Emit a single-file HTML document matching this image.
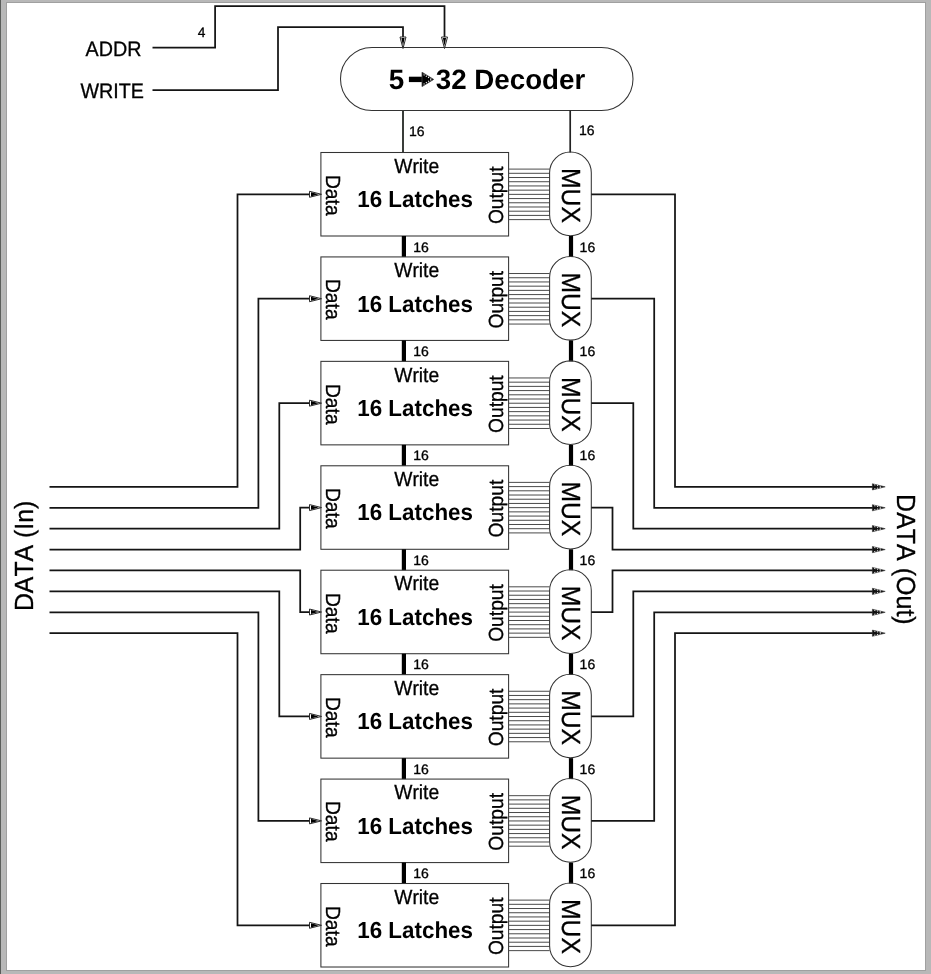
<!DOCTYPE html>
<html><head><meta charset="utf-8"><title>Register file</title>
<style>html,body{margin:0;padding:0;background:#b8b8b8;overflow:hidden}svg{display:block;will-change:transform}text{font-family:"Liberation Sans",sans-serif;fill:#000;text-rendering:geometricPrecision;font-kerning:none;stroke:#000;stroke-width:0.3px;paint-order:stroke}.b{font-weight:bold;stroke-width:0}.w{stroke:#141414;stroke-width:1.75;fill:none;stroke-linejoin:miter}.t{stroke:#333;stroke-width:1.05;fill:none}.bus{stroke:#000;stroke-width:4.2;fill:none}.ah{stroke:#2c2c2c;stroke-width:1;fill:#fff}</style></head><body>
<svg width="931" height="974" viewBox="0 0 931 974">
<rect x="0" y="0" width="931" height="974" fill="#b8b8b8"/>
<rect x="0" y="0" width="1" height="974" fill="#5a5d5a"/>
<rect x="6.5" y="2.5" width="919" height="968" fill="#fff" stroke="#a0a0a0" stroke-width="1"/>
<text transform="translate(85.60 55.80) scale(0.985 1.05)" font-size="20">ADDR</text>
<text transform="translate(80.40 97.80) scale(0.985 1.05)" font-size="20">WRITE</text>
<text transform="translate(197.80 36.80) scale(1.06 1.05)" font-size="13">4</text>
<path class="w" d="M152.5 47.7H215.1V6.2H444.5V38"/>
<path class="w" d="M152.5 90H278V27.1H403V38"/>
<path class="ah" d="M400 37H406L403 48.5Z"/>
<path d="M401.4 38h3.2l-1.6 8z" fill="#000"/>
<path class="ah" d="M441.5 37H447.5L444.5 48.5Z"/>
<path d="M442.9 38h3.2l-1.6 8z" fill="#000"/>
<rect class="t" x="340.5" y="47.5" width="292.5" height="63" rx="31.5" ry="31.5" fill="#fff"/>
<text class="b" transform="translate(388.70 88.90) scale(1.05 1.055)" font-size="26.5">5</text>
<text class="b" transform="translate(435.80 88.90) scale(1.046 1.055)" font-size="26.5">32 Decoder</text>
<path d="M408.9 79.4H424" stroke="#000" stroke-width="5.4" fill="none"/>
<path d="M422 72.2L433.7 79.4L422 86.6Z" fill="#000" stroke="#444" stroke-width="0.8"/>
<path d="M423.6 74.6L431.6 79.4M423.6 84.2L431.6 79.4" stroke="#fff" stroke-width="1.1" stroke-dasharray="1.1 1.5" fill="none"/>
<path d="M403 110.5V152.5" stroke="#3a3d3a" stroke-width="2" fill="none"/>
<path d="M570.2 110.5V152.5" stroke="#222" stroke-width="1.7" fill="none"/>
<text transform="translate(409.00 135.50) scale(1.08 1.05)" font-size="13">16</text>
<text transform="translate(579.00 135.00) scale(1.08 1.05)" font-size="13">16</text>
<rect class="t" x="320.9" y="152.50" width="187.70" height="83.5" fill="#fff"/>
<text transform="translate(394.30 172.90) scale(0.985 1.05)" font-size="19.5">Write</text>
<text class="b" transform="translate(357.20 206.70) scale(1.018 1.055)" font-size="22">16 Latches</text>
<text transform="translate(326.00 175.00) rotate(90) scale(0.985 1.05)" font-size="19.5">Data</text>
<text transform="translate(503.30 224.10) rotate(-90) scale(0.985 1.05)" font-size="19.5">Output</text>
<path d="M508.6 169.10H549.6M508.6 173.31H549.6M508.6 177.52H549.6M508.6 181.73H549.6M508.6 185.94H549.6M508.6 190.15H549.6M508.6 194.36H549.6M508.6 198.57H549.6M508.6 202.78H549.6M508.6 206.99H549.6M508.6 211.20H549.6M508.6 215.41H549.6M508.6 219.62H549.6" stroke="#4a4a4a" stroke-width="1" fill="none"/>
<rect class="t" x="549.6" y="152.00" width="41.70" height="83.7" rx="20.85" ry="20.85" fill="#fff"/>
<text transform="translate(562.00 168.10) rotate(90) scale(0.985 1.05)" font-size="25">MUX</text>
<path class="bus" d="M403.9 236.00V256.93"/>
<path class="bus" d="M571.0 236.00V256.93"/>
<text transform="translate(413.20 252.00) scale(1.08 1.05)" font-size="13">16</text>
<text transform="translate(579.60 252.00) scale(1.08 1.05)" font-size="13">16</text>
<path class="w" d="M49.5 486.85H237.5V194.30H311"/>
<path class="ah" d="M309.5 191.30V197.30L321.5 194.30Z"/>
<path d="M311 192.20v4.2l7.5-2.1z" fill="#000"/>
<path class="w" d="M591.3 194.30H675V486.85H874"/>
<path d="M872.4 483.75V489.95L885.2 486.85Z" fill="#111" stroke="#333" stroke-width="0.6"/>
<path d="M874.2 484.85L881.5 486.45M874.2 488.85L881.5 487.25" stroke="#fff" stroke-width="0.9" stroke-dasharray="1.2 1.6" fill="none"/>
<rect class="t" x="320.9" y="256.93" width="187.70" height="83.5" fill="#fff"/>
<text transform="translate(394.30 276.90) scale(0.985 1.05)" font-size="19.5">Write</text>
<text class="b" transform="translate(357.20 311.70) scale(1.018 1.055)" font-size="22">16 Latches</text>
<text transform="translate(326.00 279.00) rotate(90) scale(0.985 1.05)" font-size="19.5">Data</text>
<text transform="translate(503.30 328.53) rotate(-90) scale(0.985 1.05)" font-size="19.5">Output</text>
<path d="M508.6 273.53H549.6M508.6 277.74H549.6M508.6 281.95H549.6M508.6 286.16H549.6M508.6 290.37H549.6M508.6 294.58H549.6M508.6 298.79H549.6M508.6 303.00H549.6M508.6 307.21H549.6M508.6 311.42H549.6M508.6 315.63H549.6M508.6 319.84H549.6M508.6 324.05H549.6" stroke="#4a4a4a" stroke-width="1" fill="none"/>
<rect class="t" x="549.6" y="256.43" width="41.70" height="83.7" rx="20.85" ry="20.85" fill="#fff"/>
<text transform="translate(562.00 272.53) rotate(90) scale(0.985 1.05)" font-size="25">MUX</text>
<path class="bus" d="M403.9 340.43V361.36"/>
<path class="bus" d="M571.0 340.43V361.36"/>
<text transform="translate(413.20 356.00) scale(1.08 1.05)" font-size="13">16</text>
<text transform="translate(579.60 356.00) scale(1.08 1.05)" font-size="13">16</text>
<path class="w" d="M49.5 507.76H258.4V298.73H311"/>
<path class="ah" d="M309.5 295.73V301.73L321.5 298.73Z"/>
<path d="M311 296.63v4.2l7.5-2.1z" fill="#000"/>
<path class="w" d="M591.3 298.73H654.2V507.76H874"/>
<path d="M872.4 504.66V510.86L885.2 507.76Z" fill="#111" stroke="#333" stroke-width="0.6"/>
<path d="M874.2 505.76L881.5 507.36M874.2 509.76L881.5 508.16" stroke="#fff" stroke-width="0.9" stroke-dasharray="1.2 1.6" fill="none"/>
<rect class="t" x="320.9" y="361.36" width="187.70" height="83.5" fill="#fff"/>
<text transform="translate(394.30 381.90) scale(0.985 1.05)" font-size="19.5">Write</text>
<text class="b" transform="translate(357.20 415.70) scale(1.018 1.055)" font-size="22">16 Latches</text>
<text transform="translate(326.00 384.00) rotate(90) scale(0.985 1.05)" font-size="19.5">Data</text>
<text transform="translate(503.30 432.96) rotate(-90) scale(0.985 1.05)" font-size="19.5">Output</text>
<path d="M508.6 377.96H549.6M508.6 382.17H549.6M508.6 386.38H549.6M508.6 390.59H549.6M508.6 394.80H549.6M508.6 399.01H549.6M508.6 403.22H549.6M508.6 407.43H549.6M508.6 411.64H549.6M508.6 415.85H549.6M508.6 420.06H549.6M508.6 424.27H549.6M508.6 428.48H549.6" stroke="#4a4a4a" stroke-width="1" fill="none"/>
<rect class="t" x="549.6" y="360.86" width="41.70" height="83.7" rx="20.85" ry="20.85" fill="#fff"/>
<text transform="translate(562.00 376.96) rotate(90) scale(0.985 1.05)" font-size="25">MUX</text>
<path class="bus" d="M403.9 444.86V465.79"/>
<path class="bus" d="M571.0 444.86V465.79"/>
<text transform="translate(413.20 460.00) scale(1.08 1.05)" font-size="13">16</text>
<text transform="translate(579.60 460.00) scale(1.08 1.05)" font-size="13">16</text>
<path class="w" d="M49.5 528.66H279.3V403.16H311"/>
<path class="ah" d="M309.5 400.16V406.16L321.5 403.16Z"/>
<path d="M311 401.06v4.2l7.5-2.1z" fill="#000"/>
<path class="w" d="M591.3 403.16H633.3V528.66H874"/>
<path d="M872.4 525.56V531.76L885.2 528.66Z" fill="#111" stroke="#333" stroke-width="0.6"/>
<path d="M874.2 526.66L881.5 528.26M874.2 530.66L881.5 529.06" stroke="#fff" stroke-width="0.9" stroke-dasharray="1.2 1.6" fill="none"/>
<rect class="t" x="320.9" y="465.79" width="187.70" height="83.5" fill="#fff"/>
<text transform="translate(394.30 485.90) scale(0.985 1.05)" font-size="19.5">Write</text>
<text class="b" transform="translate(357.20 519.70) scale(1.018 1.055)" font-size="22">16 Latches</text>
<text transform="translate(326.00 488.00) rotate(90) scale(0.985 1.05)" font-size="19.5">Data</text>
<text transform="translate(503.30 537.39) rotate(-90) scale(0.985 1.05)" font-size="19.5">Output</text>
<path d="M508.6 482.39H549.6M508.6 486.60H549.6M508.6 490.81H549.6M508.6 495.02H549.6M508.6 499.23H549.6M508.6 503.44H549.6M508.6 507.65H549.6M508.6 511.86H549.6M508.6 516.07H549.6M508.6 520.28H549.6M508.6 524.49H549.6M508.6 528.70H549.6M508.6 532.91H549.6" stroke="#4a4a4a" stroke-width="1" fill="none"/>
<rect class="t" x="549.6" y="465.29" width="41.70" height="83.7" rx="20.85" ry="20.85" fill="#fff"/>
<text transform="translate(562.00 481.39) rotate(90) scale(0.985 1.05)" font-size="25">MUX</text>
<path class="bus" d="M403.9 549.29V570.22"/>
<path class="bus" d="M571.0 549.29V570.22"/>
<text transform="translate(413.20 565.00) scale(1.08 1.05)" font-size="13">16</text>
<text transform="translate(579.60 565.00) scale(1.08 1.05)" font-size="13">16</text>
<path class="w" d="M49.5 549.57H300.2V507.59H311"/>
<path class="ah" d="M309.5 504.59V510.59L321.5 507.59Z"/>
<path d="M311 505.49v4.2l7.5-2.1z" fill="#000"/>
<path class="w" d="M591.3 507.59H612.5V549.57H874"/>
<path d="M872.4 546.47V552.67L885.2 549.57Z" fill="#111" stroke="#333" stroke-width="0.6"/>
<path d="M874.2 547.57L881.5 549.17M874.2 551.57L881.5 549.97" stroke="#fff" stroke-width="0.9" stroke-dasharray="1.2 1.6" fill="none"/>
<rect class="t" x="320.9" y="570.22" width="187.70" height="83.5" fill="#fff"/>
<text transform="translate(394.30 589.90) scale(0.985 1.05)" font-size="19.5">Write</text>
<text class="b" transform="translate(357.20 624.70) scale(1.018 1.055)" font-size="22">16 Latches</text>
<text transform="translate(326.00 593.00) rotate(90) scale(0.985 1.05)" font-size="19.5">Data</text>
<text transform="translate(503.30 641.82) rotate(-90) scale(0.985 1.05)" font-size="19.5">Output</text>
<path d="M508.6 586.82H549.6M508.6 591.03H549.6M508.6 595.24H549.6M508.6 599.45H549.6M508.6 603.66H549.6M508.6 607.87H549.6M508.6 612.08H549.6M508.6 616.29H549.6M508.6 620.50H549.6M508.6 624.71H549.6M508.6 628.92H549.6M508.6 633.13H549.6M508.6 637.34H549.6" stroke="#4a4a4a" stroke-width="1" fill="none"/>
<rect class="t" x="549.6" y="569.72" width="41.70" height="83.7" rx="20.85" ry="20.85" fill="#fff"/>
<text transform="translate(562.00 585.82) rotate(90) scale(0.985 1.05)" font-size="25">MUX</text>
<path class="bus" d="M403.9 653.72V674.65"/>
<path class="bus" d="M571.0 653.72V674.65"/>
<text transform="translate(413.20 669.00) scale(1.08 1.05)" font-size="13">16</text>
<text transform="translate(579.60 669.00) scale(1.08 1.05)" font-size="13">16</text>
<path class="w" d="M49.5 570.48H300.2V612.02H311"/>
<path class="ah" d="M309.5 609.02V615.02L321.5 612.02Z"/>
<path d="M311 609.92v4.2l7.5-2.1z" fill="#000"/>
<path class="w" d="M591.3 612.02H612.5V570.48H874"/>
<path d="M872.4 567.38V573.58L885.2 570.48Z" fill="#111" stroke="#333" stroke-width="0.6"/>
<path d="M874.2 568.48L881.5 570.08M874.2 572.48L881.5 570.88" stroke="#fff" stroke-width="0.9" stroke-dasharray="1.2 1.6" fill="none"/>
<rect class="t" x="320.9" y="674.65" width="187.70" height="83.5" fill="#fff"/>
<text transform="translate(394.30 694.90) scale(0.985 1.05)" font-size="19.5">Write</text>
<text class="b" transform="translate(357.20 728.70) scale(1.018 1.055)" font-size="22">16 Latches</text>
<text transform="translate(326.00 697.00) rotate(90) scale(0.985 1.05)" font-size="19.5">Data</text>
<text transform="translate(503.30 746.25) rotate(-90) scale(0.985 1.05)" font-size="19.5">Output</text>
<path d="M508.6 691.25H549.6M508.6 695.46H549.6M508.6 699.67H549.6M508.6 703.88H549.6M508.6 708.09H549.6M508.6 712.30H549.6M508.6 716.51H549.6M508.6 720.72H549.6M508.6 724.93H549.6M508.6 729.14H549.6M508.6 733.35H549.6M508.6 737.56H549.6M508.6 741.77H549.6" stroke="#4a4a4a" stroke-width="1" fill="none"/>
<rect class="t" x="549.6" y="674.15" width="41.70" height="83.7" rx="20.85" ry="20.85" fill="#fff"/>
<text transform="translate(562.00 690.25) rotate(90) scale(0.985 1.05)" font-size="25">MUX</text>
<path class="bus" d="M403.9 758.15V779.08"/>
<path class="bus" d="M571.0 758.15V779.08"/>
<text transform="translate(413.20 774.00) scale(1.08 1.05)" font-size="13">16</text>
<text transform="translate(579.60 774.00) scale(1.08 1.05)" font-size="13">16</text>
<path class="w" d="M49.5 591.38H279.3V716.45H311"/>
<path class="ah" d="M309.5 713.45V719.45L321.5 716.45Z"/>
<path d="M311 714.35v4.2l7.5-2.1z" fill="#000"/>
<path class="w" d="M591.3 716.45H633.3V591.38H874"/>
<path d="M872.4 588.28V594.49L885.2 591.38Z" fill="#111" stroke="#333" stroke-width="0.6"/>
<path d="M874.2 589.38L881.5 590.99M874.2 593.38L881.5 591.78" stroke="#fff" stroke-width="0.9" stroke-dasharray="1.2 1.6" fill="none"/>
<rect class="t" x="320.9" y="779.08" width="187.70" height="83.5" fill="#fff"/>
<text transform="translate(394.30 798.90) scale(0.985 1.05)" font-size="19.5">Write</text>
<text class="b" transform="translate(357.20 833.70) scale(1.018 1.055)" font-size="22">16 Latches</text>
<text transform="translate(326.00 801.00) rotate(90) scale(0.985 1.05)" font-size="19.5">Data</text>
<text transform="translate(503.30 850.68) rotate(-90) scale(0.985 1.05)" font-size="19.5">Output</text>
<path d="M508.6 795.68H549.6M508.6 799.89H549.6M508.6 804.10H549.6M508.6 808.31H549.6M508.6 812.52H549.6M508.6 816.73H549.6M508.6 820.94H549.6M508.6 825.15H549.6M508.6 829.36H549.6M508.6 833.57H549.6M508.6 837.78H549.6M508.6 841.99H549.6M508.6 846.20H549.6" stroke="#4a4a4a" stroke-width="1" fill="none"/>
<rect class="t" x="549.6" y="778.58" width="41.70" height="83.7" rx="20.85" ry="20.85" fill="#fff"/>
<text transform="translate(562.00 794.68) rotate(90) scale(0.985 1.05)" font-size="25">MUX</text>
<path class="bus" d="M403.9 862.58V883.51"/>
<path class="bus" d="M571.0 862.58V883.51"/>
<text transform="translate(413.20 878.00) scale(1.08 1.05)" font-size="13">16</text>
<text transform="translate(579.60 878.00) scale(1.08 1.05)" font-size="13">16</text>
<path class="w" d="M49.5 612.29H258.4V820.88H311"/>
<path class="ah" d="M309.5 817.88V823.88L321.5 820.88Z"/>
<path d="M311 818.78v4.2l7.5-2.1z" fill="#000"/>
<path class="w" d="M591.3 820.88H654.2V612.29H874"/>
<path d="M872.4 609.19V615.39L885.2 612.29Z" fill="#111" stroke="#333" stroke-width="0.6"/>
<path d="M874.2 610.29L881.5 611.89M874.2 614.29L881.5 612.69" stroke="#fff" stroke-width="0.9" stroke-dasharray="1.2 1.6" fill="none"/>
<rect class="t" x="320.9" y="883.51" width="187.70" height="83.5" fill="#fff"/>
<text transform="translate(394.30 903.90) scale(0.985 1.05)" font-size="19.5">Write</text>
<text class="b" transform="translate(357.20 937.70) scale(1.018 1.055)" font-size="22">16 Latches</text>
<text transform="translate(326.00 906.00) rotate(90) scale(0.985 1.05)" font-size="19.5">Data</text>
<text transform="translate(503.30 955.11) rotate(-90) scale(0.985 1.05)" font-size="19.5">Output</text>
<path d="M508.6 900.11H549.6M508.6 904.32H549.6M508.6 908.53H549.6M508.6 912.74H549.6M508.6 916.95H549.6M508.6 921.16H549.6M508.6 925.37H549.6M508.6 929.58H549.6M508.6 933.79H549.6M508.6 938.00H549.6M508.6 942.21H549.6M508.6 946.42H549.6M508.6 950.63H549.6" stroke="#4a4a4a" stroke-width="1" fill="none"/>
<rect class="t" x="549.6" y="883.01" width="41.70" height="83.7" rx="20.85" ry="20.85" fill="#fff"/>
<text transform="translate(562.00 899.11) rotate(90) scale(0.985 1.05)" font-size="25">MUX</text>
<path class="w" d="M49.5 633.20H237.5V925.31H311"/>
<path class="ah" d="M309.5 922.31V928.31L321.5 925.31Z"/>
<path d="M311 923.21v4.2l7.5-2.1z" fill="#000"/>
<path class="w" d="M591.3 925.31H675V633.20H874"/>
<path d="M872.4 630.10V636.30L885.2 633.20Z" fill="#111" stroke="#333" stroke-width="0.6"/>
<path d="M874.2 631.20L881.5 632.80M874.2 635.20L881.5 633.60" stroke="#fff" stroke-width="0.9" stroke-dasharray="1.2 1.6" fill="none"/>
<text transform="translate(32.80 611.10) rotate(-90) scale(0.993 1.05)" font-size="25">DATA (In)</text>
<text transform="translate(897.00 494.10) rotate(90) scale(1.0 1.05)" font-size="25">DATA (Out)</text>
</svg></body></html>
